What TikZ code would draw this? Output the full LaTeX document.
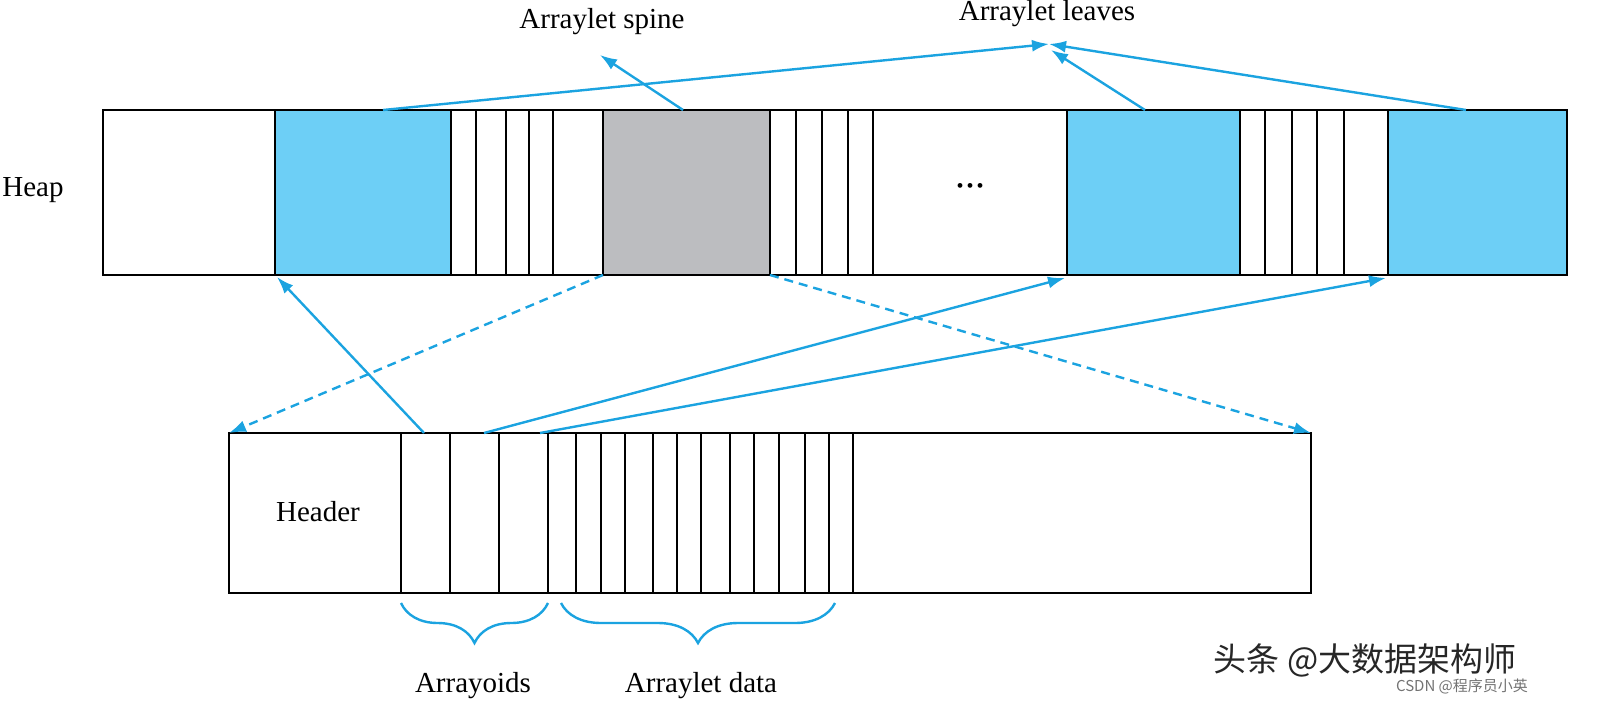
\documentclass[tikz,border=0pt]{standalone}
\usepackage{fontspec}
\setmainfont{Liberation Serif}
\newfontfamily\cjk{Noto Sans CJK SC}
\usetikzlibrary{arrows.meta,decorations.pathreplacing}
\definecolor{cellblue}{HTML}{6DCFF6}
\definecolor{cellgray}{HTML}{BCBDC0}
\definecolor{arr}{HTML}{1BA3E0}
\begin{document}
\begin{tikzpicture}[x=1pt,y=-1pt,
  cell/.style={draw=black,line width=2pt},
  lbl/.style={font=\fontsize{29}{31}\selectfont,inner sep=0},
  link/.style={draw=arr,line width=2.4pt,-{Latex[length=17pt,width=12pt]}},
  dlink/.style={link,dash pattern=on 9pt off 6pt},
  brc/.style={draw=arr,line width=2.4pt,decorate,decoration={brace,mirror,amplitude=40pt,aspect=0.5}}]
\useasboundingbox (0,0) rectangle (1599,716);
% heap bar
\fill[cellblue] (275,110) rectangle (451,275);
\fill[cellgray] (603,110) rectangle (770,275);
\fill[cellblue] (1067,110) rectangle (1240,275);
\fill[cellblue] (1388,110) rectangle (1567,275);
\draw[cell] (103,110) rectangle (1567,275);
\foreach \x in {275,451,476,506,529,553,603,770,796,822,848,873,1067,1240,1265,1292,1317,1344,1388}
  \draw[cell] (\x,110) -- (\x,275);
\node[lbl] (heap) at (33,190) {Heap};
\node[inner sep=0,font=\fontsize{20}{20}\selectfont] (dots) at (970,188) {\textbullet\hspace{3pt}\textbullet\hspace{3pt}\textbullet};
% lower bar
\draw[cell] (229,433) rectangle (1311,593);
\foreach \x in {401,450,499,548,576,601,625,653,677,701,730,754,779,805,829,853}
  \draw[cell] (\x,433) -- (\x,593);
\node[lbl] (header) at (318,512) {Header};
% anchor coordinates
\coordinate (b1) at (383,110);
\coordinate (b2) at (1145,110);
\coordinate (b3) at (1466,110);
\coordinate (sp) at (683,110);
\coordinate (g1) at (603,275);
\coordinate (g2) at (770,275);
\coordinate (l1) at (229,433);
\coordinate (l2) at (1311,433);
\coordinate (a1) at (424,433);
\coordinate (a2) at (484,433);
\coordinate (a3) at (540,433);
\coordinate (t1) at (277,277);
\coordinate (t2) at (1065,278);
\coordinate (t3) at (1386,278);
\node[lbl] (spine) at (602,22) {Arraylet spine};
\node[lbl] (leaves) at (1047,14) {Arraylet leaves};
\coordinate (sptip) at (600,55);
\coordinate (lvtip) at (1049,44);
\coordinate (lvtip2) at (1051,50);
\draw[link] (sp) -- (sptip);
\draw[link] (b1) -- (lvtip);
\draw[link] (b2) -- (lvtip2);
\draw[link] (b3) -- (lvtip);
\draw[link] (a1) -- (t1);
\draw[link] (a2) -- (t2);
\draw[link] (a3) -- (t3);
\draw[dlink] (g1) -- (l1);
\draw[dlink] (g2) -- (l2);
% braces
\draw[brc] (401,603) -- (548,603);
\draw[brc] (561,603) -- (835,603);
\node[lbl] (ay) at (473,686) {Arrayoids};
\node[lbl] (ad) at (701,686) {Arraylet data};
\node[inner sep=0,text=black!85,font=\cjk\fontsize{33}{35}\selectfont] (wm) at (1365,660) {头条 @大数据架构师};
\node[inner sep=0,text=black!55,font=\cjk\fontsize{15}{17}\selectfont] (wm2) at (1462,686) {CSDN @程序员小英};
\end{tikzpicture}
\end{document}
